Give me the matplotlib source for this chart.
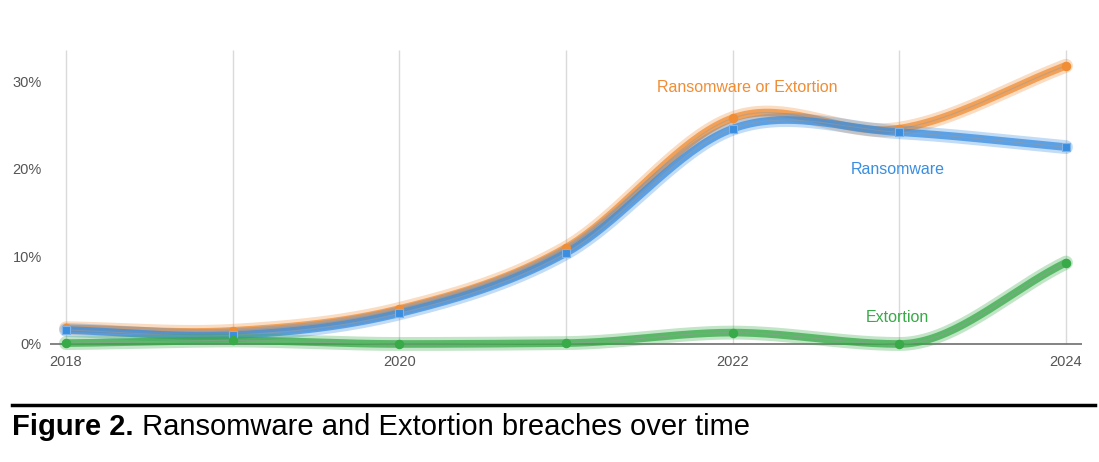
import numpy as np
import matplotlib
matplotlib.use("Agg")
import matplotlib.pyplot as plt

years = [2018, 2019, 2020, 2021, 2022, 2023, 2024]
tick_years = [2018, 2020, 2022, 2024]
y_ticks = [0, 10, 20, 30]
rans_or_ext = [1.8, 1.5, 4.0, 11.0, 25.8, 24.6, 31.8]
ransomware = [1.6, 1.0, 3.5, 10.4, 24.6, 24.2, 22.5]
extortion = [0.1, 0.4, 0.0, 0.1, 1.3, 0.0, 9.3]

C_OR = "#f08d35"
C_BL = "#3a8ee0"
C_GR = "#38aa48"


def hermite(x, y, monotone=False, n=40):
    x = np.asarray(x, float)
    y = np.asarray(y, float)
    h = np.diff(x)
    d = np.diff(y) / h
    m = np.empty_like(y)
    m[0], m[-1] = d[0], d[-1]
    m[1:-1] = (y[2:] - y[:-2]) / (x[2:] - x[:-2])
    if monotone:
        for i in range(1, len(y) - 1):
            if d[i - 1] * d[i] <= 0:
                m[i] = 0.0
            else:
                m[i] = 2.0 / (1.0 / d[i - 1] + 1.0 / d[i])
        m[0], m[-1] = d[0] * 0.5, d[-1]
    xs, ys = [], []
    for i in range(len(x) - 1):
        t = np.linspace(0, 1, n, endpoint=(i == len(x) - 2))
        h00 = 2 * t**3 - 3 * t**2 + 1
        h10 = t**3 - 2 * t**2 + t
        h01 = -2 * t**3 + 3 * t**2
        h11 = t**3 - t**2
        xs.append(x[i] + t * h[i])
        ys.append(h00 * y[i] + h10 * h[i] * m[i] + h01 * y[i + 1] + h11 * h[i] * m[i + 1])
    return np.concatenate(xs), np.concatenate(ys)


fig = plt.figure(figsize=(10.99, 4.62), dpi=100)
ax = fig.add_axes([50 / 1099, (462 - 346.6) / 462, 1032 / 1099, 296.6 / 462])
ax.set_xlim(2017.904, 2024.096)
ax.set_ylim(-0.3, 33.6)
for s in ax.spines.values():
    s.set_visible(False)

ax.vlines(years, 0, 33.6, color="#dadada", lw=1, zorder=0)
ax.axhline(0, color="#6e6e6e", lw=1.2, zorder=1)

ax.set_xticks(tick_years)
ax.set_xticklabels([str(t) for t in tick_years])
ax.set_yticks(y_ticks)
ax.set_yticklabels([f"{v}%" for v in y_ticks])
ax.tick_params(length=0, labelsize=10.5, colors="#555555", pad=6)
for lab in ax.get_xticklabels() + ax.get_yticklabels():
    lab.set_fontfamily("Liberation Sans")

series = [
    (rans_or_ext, C_OR, "o", False),
    (ransomware, C_BL, "s", False),
    (extortion, C_GR, "o", True),
]
for vals, col, mk, mono in series:
    xs, ys = hermite(years, vals, monotone=mono)
    ax.plot(xs, ys, color=col, lw=10, alpha=0.3, solid_capstyle="round", zorder=3, clip_on=False)
    ax.plot(xs, ys, color=col, lw=5.5, alpha=0.75, solid_capstyle="round", zorder=3, clip_on=False)
    ax.plot(xs, ys, color="#9a9a9a", lw=0.8, alpha=0.5, zorder=3, clip_on=False)
    ax.plot(years, vals, ls="none", marker=mk, ms=6, color=col, mec="#7fb2e6" if mk == "s" else col,
            mew=0.8, zorder=4, clip_on=False)

ax.text(2022.09, 29.3, "Ransomware or Extortion", color=C_OR, fontsize=11.5, ha="center", va="center",
        family="Liberation Sans")
ax.text(2022.99, 19.9, "Ransomware", color=C_BL, fontsize=11.5, ha="center", va="center",
        family="Liberation Sans")
ax.text(2022.99, 3.0, "Extortion", color=C_GR, fontsize=11.5, ha="center", va="center",
        family="Liberation Sans")

fig.add_artist(plt.Line2D([12 / 1099, 1095 / 1099], [(462 - 405) / 462] * 2, color="black", lw=2.5))
t1 = fig.text(12 / 1099, (462 - 435) / 462, "Figure 2.", fontsize=21, fontweight="bold",
              family="Liberation Sans", va="baseline", ha="left")
ax.annotate(" Ransomware and Extortion breaches over time", xy=(1, 0), xycoords=t1,
            fontsize=21, family="Liberation Sans", va="bottom", ha="left",
            annotation_clip=False)

fig.savefig("out.png", dpi=100, facecolor="white")
